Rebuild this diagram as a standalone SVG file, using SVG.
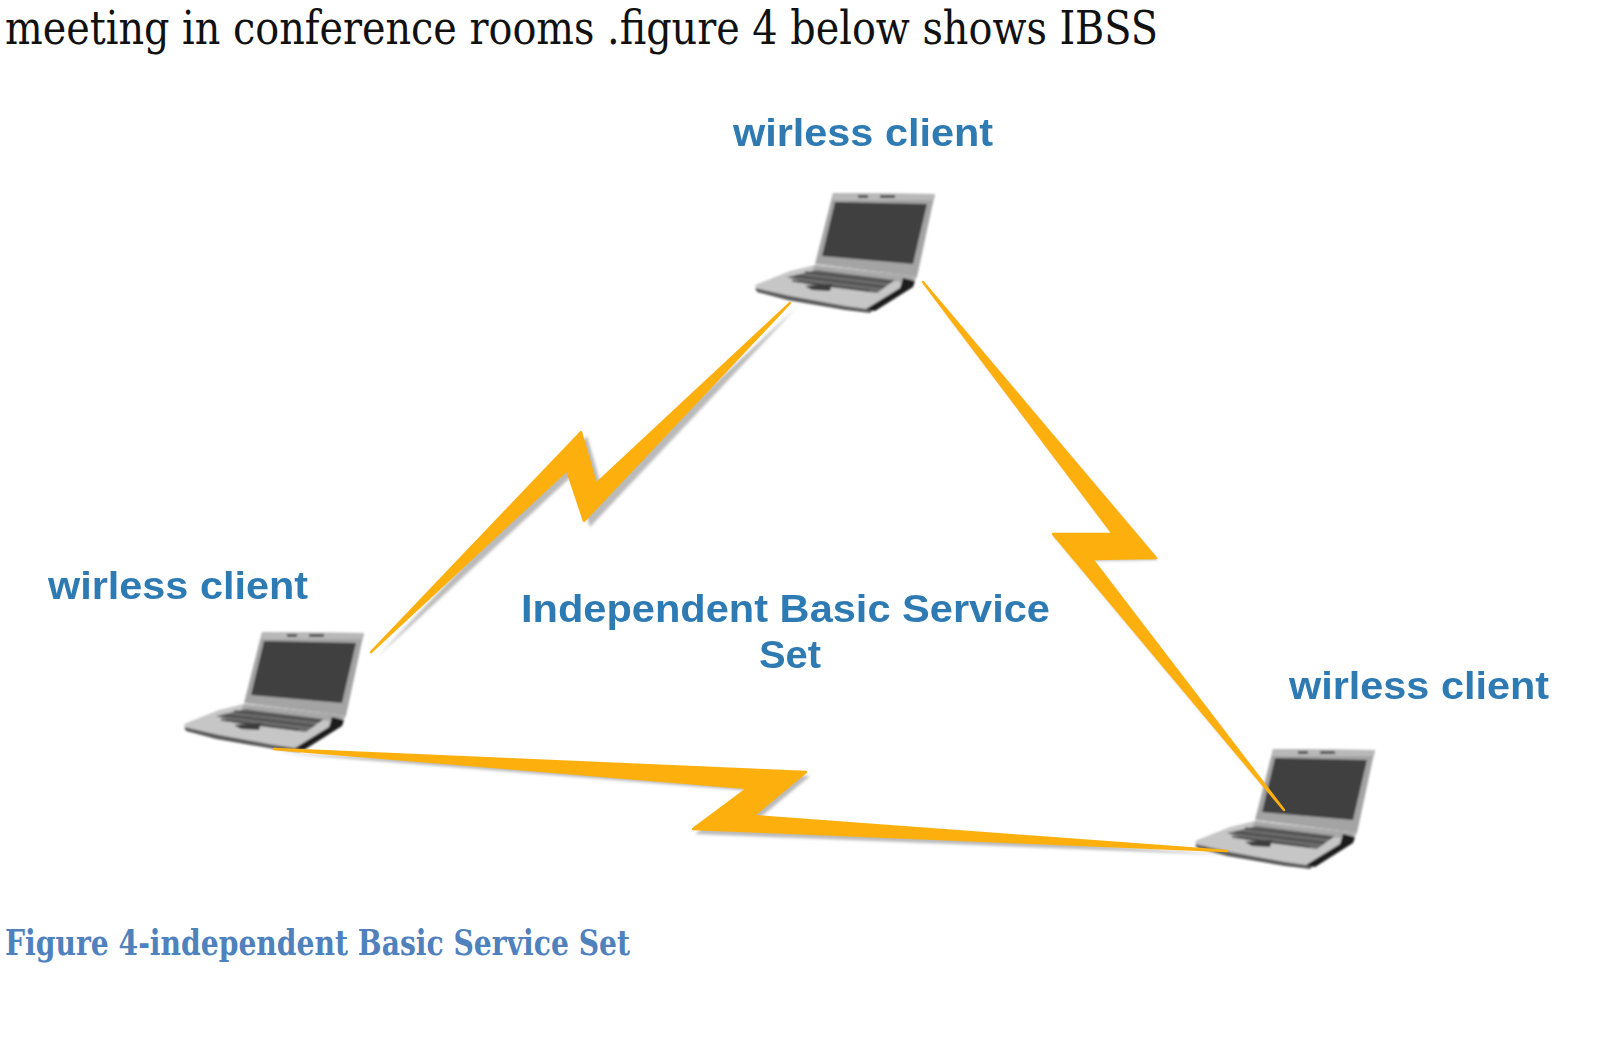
<svg xmlns="http://www.w3.org/2000/svg" width="1624" height="1064" viewBox="0 0 1624 1064">
<style>
.head{font-family:"DejaVu Serif Condensed","DejaVu Serif",serif;font-size:47px;fill:#111}
.cap{font-family:"DejaVu Serif Condensed","DejaVu Serif",serif;font-size:36px;font-weight:700;fill:#4f81bd}
.lab{font-family:"Liberation Sans",Arial,sans-serif;font-size:38px;font-weight:700;fill:#2f7ab3}
.bolt{fill:#fdb00f;stroke:#fdb00f;stroke-width:2.4;stroke-linejoin:round}
.shadow{fill:#8c8c8c;opacity:.6}
</style>
<defs>
<filter id="soft" x="-10%" y="-10%" width="120%" height="120%"><feGaussianBlur stdDeviation="0.8"/></filter>
<filter id="softer" x="-10%" y="-10%" width="120%" height="120%"><feGaussianBlur stdDeviation="1.4"/></filter>
<filter id="bsoft" x="-10%" y="-10%" width="120%" height="120%"><feGaussianBlur stdDeviation="0.5"/></filter>
<filter id="tsoft" x="-5%" y="-20%" width="110%" height="140%"><feGaussianBlur stdDeviation="0.6"/></filter>
<g id="laptop" filter="url(#soft)">
<polygon points="833,193 935,194 932,207 917,277 815,264" fill="#a4a4a4"/>
<polygon points="833,193 935,194 934,200 832,200" fill="#b8b8b8"/>
<polygon points="835,202 927,204 913,264 822,256" fill="#414141"/>
<polygon points="755,285 790,271 815,265 917,277 915,281 913,287 875,311 845,307 787,297 757,290" fill="#c6c6c6"/>
<polygon points="815,265 917,277 908,283 812,271" fill="#a8a8a8"/>
<polygon points="787,277 817,270 895,280 877,293 837,288 807,284" fill="#6a6a6a"/>
<path d="M795 276 L885 287 M805 272 L892 282 M792 281 L870 291" stroke="#3f3f3f" stroke-width="1.5" fill="none"/>
<polygon points="805,286 832,284 830,291 812,290" fill="#3d3d3d"/>
<polygon points="755,288 790,296 845,306 873,310 870,313 845,310 787,300 757,292" fill="#5a5a5a"/>
<polygon points="903,278 915,281 913,287 875,311 866,309 900,288" fill="#1b1b1b"/>
<polygon points="858,195 868,195 868,198 858,198" fill="#555"/>
<polygon points="880,195 895,195 895,198 880,198" fill="#555"/>
</g>
</defs>
<rect width="1624" height="1064" fill="#fff"/>
<text class="head" x="5" y="44" textLength="1153" lengthAdjust="spacingAndGlyphs">meeting in conference rooms .figure 4 below shows IBSS</text>
<text class="cap" x="5" y="955" textLength="625" lengthAdjust="spacingAndGlyphs">Figure 4-independent Basic Service Set</text>
<g id="node-top"><use href="#laptop"/><text class="lab" x="733" y="146" textLength="260" lengthAdjust="spacingAndGlyphs" filter="url(#tsoft)">wirless client</text></g>
<g id="node-left"><use href="#laptop" x="-571" y="439"/><text class="lab" x="48" y="599" textLength="260" lengthAdjust="spacingAndGlyphs" filter="url(#tsoft)">wirless client</text></g>
<g id="node-right"><use href="#laptop" x="440" y="556"/><text class="lab" x="1289" y="699" textLength="260" lengthAdjust="spacingAndGlyphs" filter="url(#tsoft)">wirless client</text></g>
<g id="node-center"><text class="lab" x="521" y="622" textLength="529" lengthAdjust="spacingAndGlyphs" filter="url(#tsoft)">Independent Basic Service</text><text class="lab" x="759" y="668" textLength="62" lengthAdjust="spacingAndGlyphs" filter="url(#tsoft)">Set</text></g>
<g id="connectors">
<g filter="url(#softer)">
<polygon class="shadow" points="377,657 587,436 602,488 796,308 590,527 573,475"/>
<polygon class="shadow" points="924,284 1114,535 1053,535 1285,812 1093,561 1158,560"/>
<polygon class="shadow" points="277,753 810,776 756,821 1230,855 695,834 751,791"/>
</g>
<g filter="url(#bsoft)">
<polygon class="bolt" points="371,652 581,432 596,484 790,303 584,521 567,470"/>
<polygon class="bolt" points="923,282 1113,534 1053,534 1284,810 1092,559 1156,558"/>
<polygon class="bolt" points="274,749 806,772 753,816 1227,851 693,829 748,788"/>
</g>
</g>
</svg>
